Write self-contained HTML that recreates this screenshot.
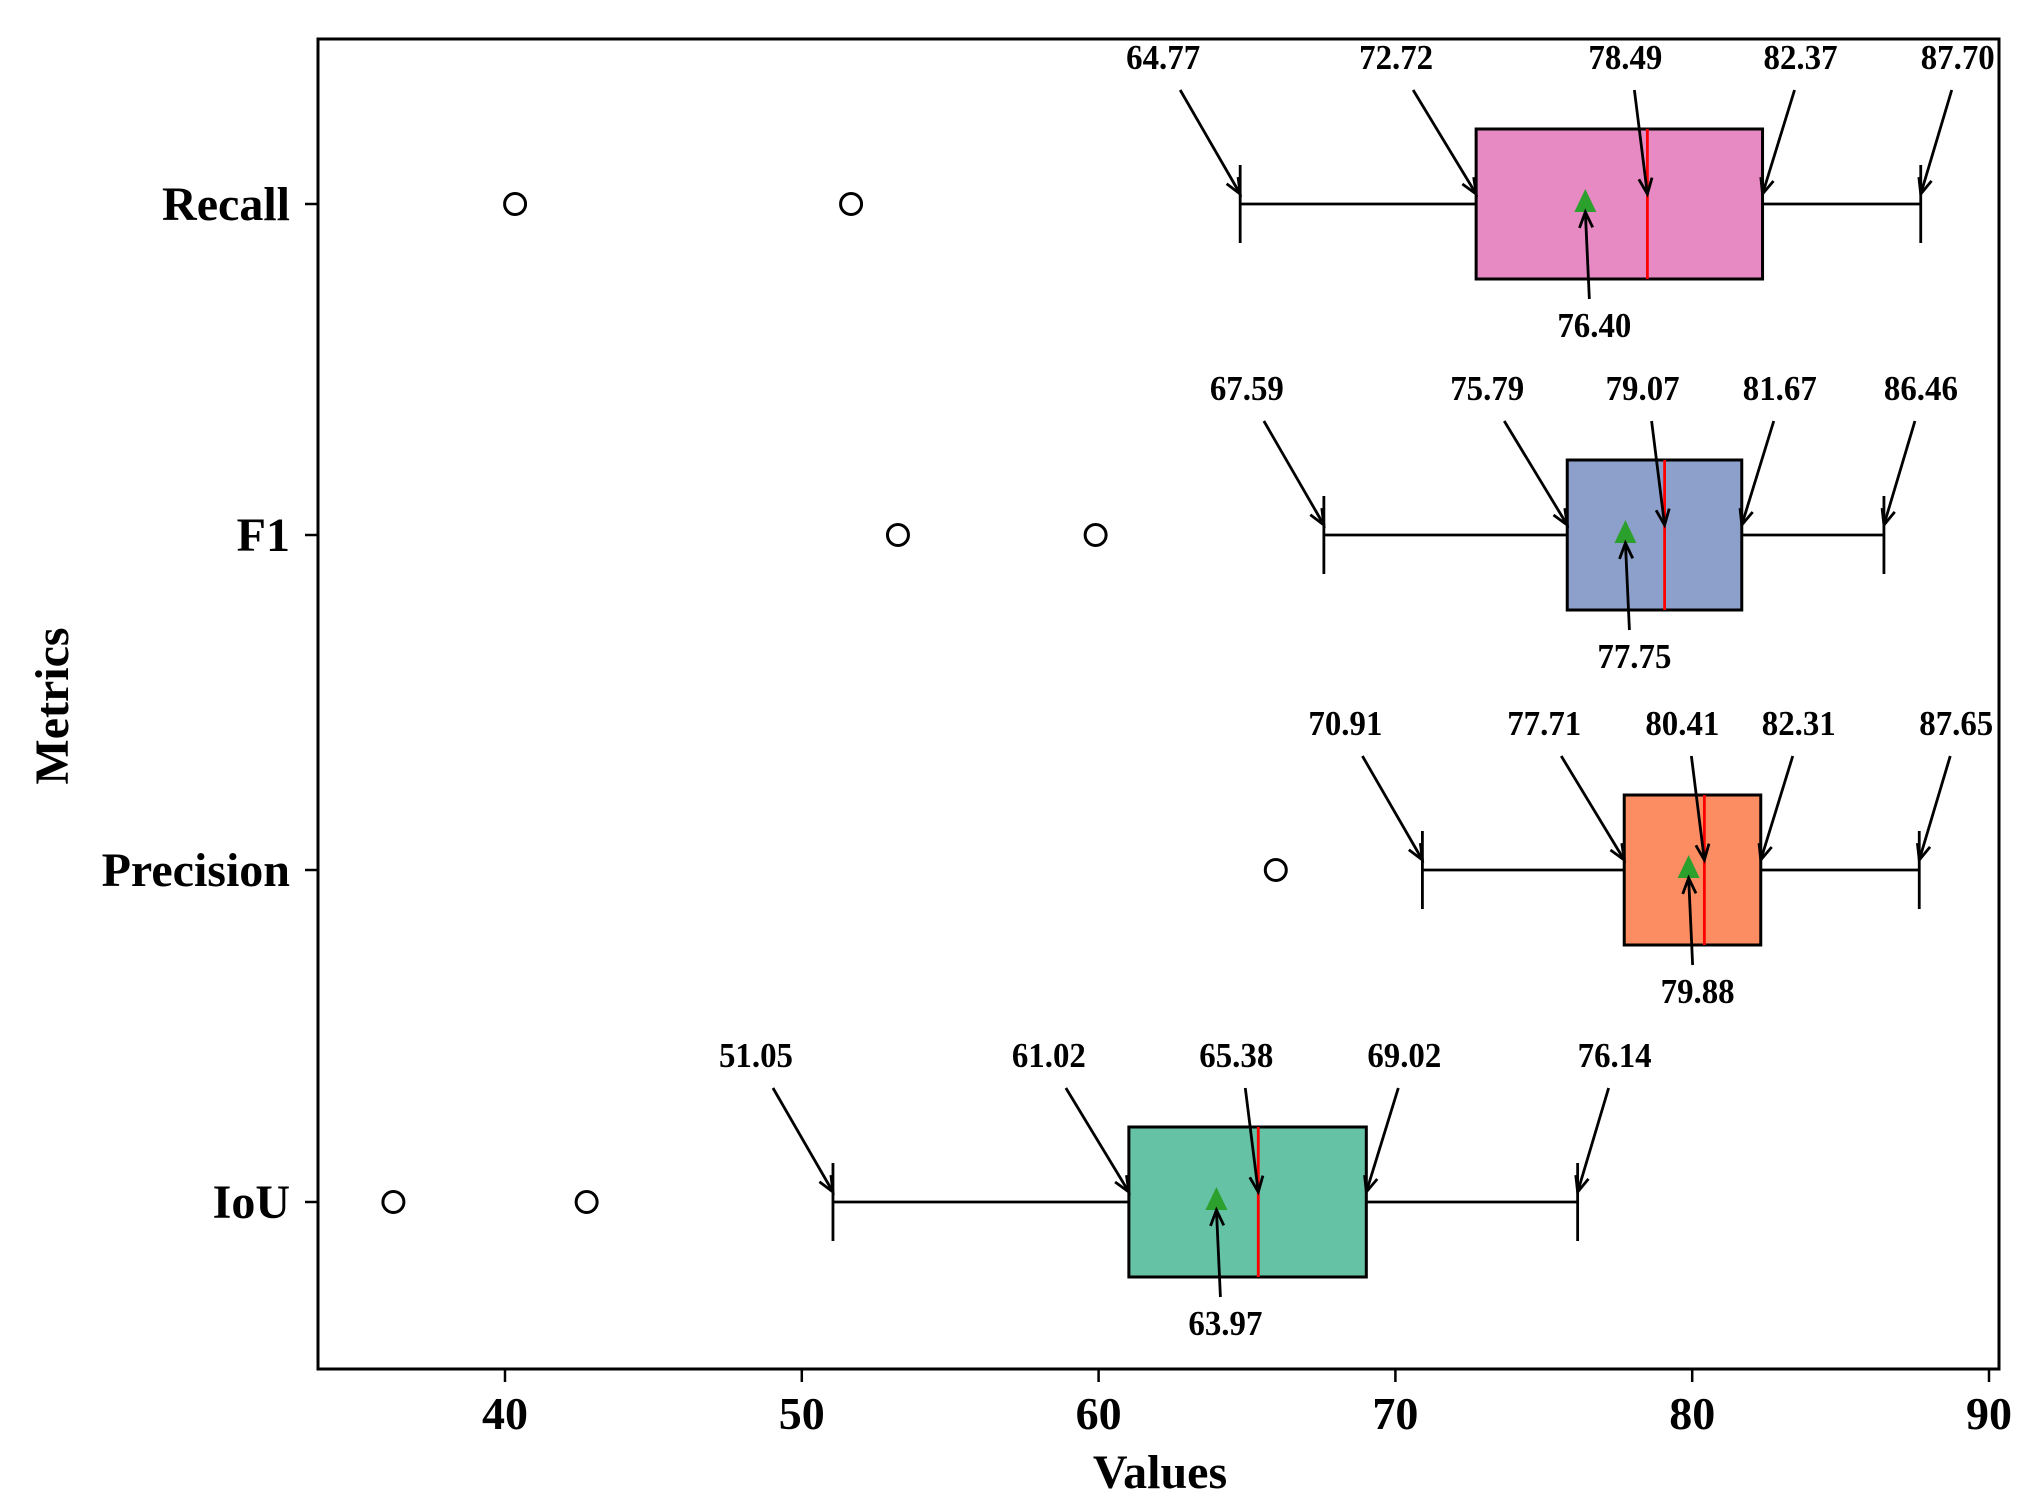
<!DOCTYPE html>
<html><head><meta charset="utf-8"><style>
html,body{margin:0;padding:0;background:#fff;}
svg{display:block;font-family:"Liberation Serif",serif;font-weight:bold;}
</style></head><body>
<svg id="s" width="2041" height="1511" viewBox="0 0 2041 1511" xmlns="http://www.w3.org/2000/svg"></svg>
<script>
const s=document.getElementById('s');
const X=v=>505+(v-40)*29.68;
let h='';
const L=318,R=1999,T=39,B=1369;
const rows=[
 {n:'Recall',y:204,c:'#e78ac3',d:[64.77,72.72,78.49,82.37,87.70],m:76.40,o:[40.34,51.66]},
 {n:'F1',y:535,c:'#8da0cb',d:[67.59,75.79,79.07,81.67,86.46],m:77.75,o:[53.24,59.9]},
 {n:'Precision',y:870,c:'#fc8d62',d:[70.91,77.71,80.41,82.31,87.65],m:79.88,o:[65.97]},
 {n:'IoU',y:1202,c:'#66c2a5',d:[51.05,61.02,65.38,69.02,76.14],m:63.97,o:[36.24,42.75]}
];
function arrow(x1,y1,x2,y2){
  const a=Math.atan2(y2-y1,x2-x1),l=17,w=0.4;
  h+=`<line x1="${x1}" y1="${y1}" x2="${x2}" y2="${y2}" stroke="#000" stroke-width="2.8"/>`;
  h+=`<polyline points="${x2-l*Math.cos(a-w)},${y2-l*Math.sin(a-w)} ${x2},${y2} ${x2-l*Math.cos(a+w)},${y2-l*Math.sin(a+w)}" fill="none" stroke="#000" stroke-width="2.8"/>`;
}
const lab=[-77,-80,-22,38,37], st=[17,17,9,-6,-6];
rows.forEach(r=>{
  const [mn,q1,md,q3,mx]=r.d.map(X), y=r.y;
  h+=`<line x1="${mn}" y1="${y}" x2="${q1}" y2="${y}" stroke="#000" stroke-width="2.8"/>`;
  h+=`<line x1="${q3}" y1="${y}" x2="${mx}" y2="${y}" stroke="#000" stroke-width="2.8"/>`;
  h+=`<line x1="${mn}" y1="${y-39}" x2="${mn}" y2="${y+39}" stroke="#000" stroke-width="2.8"/>`;
  h+=`<line x1="${mx}" y1="${y-39}" x2="${mx}" y2="${y+39}" stroke="#000" stroke-width="2.8"/>`;
  h+=`<rect x="${q1}" y="${y-75}" width="${q3-q1}" height="150" fill="${r.c}" stroke="#000" stroke-width="3"/>`;
  h+=`<line x1="${md}" y1="${y-75}" x2="${md}" y2="${y+75}" stroke="#ff0000" stroke-width="2.8"/>`;
  r.o.forEach(v=>{h+=`<circle cx="${X(v)}" cy="${y}" r="10.5" fill="none" stroke="#000" stroke-width="3"/>`;});
  const mx2=X(r.m);
  h+=`<polygon points="${mx2},${y-15} ${mx2-11},${y+8} ${mx2+11},${y+8}" fill="#2ca02c"/>`;
  [mn,q1,md,q3,mx].forEach((px,i)=>{
    const lx=px+lab[i];
    h+=`<text x="${lx}" y="${y-135}" font-size="35" text-anchor="middle" textLength="74" lengthAdjust="spacingAndGlyphs">${r.d[i].toFixed(2)}</text>`;
    arrow(lx+st[i],y-114,px,y-10);
  });
  h+=`<text x="${mx2+9}" y="${y+133}" font-size="35" text-anchor="middle" textLength="74" lengthAdjust="spacingAndGlyphs">${r.m.toFixed(2)}</text>`;
  arrow(mx2+4,y+95,mx2,y+8);
  h+=`<line x1="${L-13}" y1="${y}" x2="${L}" y2="${y}" stroke="#000" stroke-width="2.5"/>`;
  h+=`<text x="290" y="${y+16}" font-size="48" text-anchor="end">${r.n}</text>`;
});
h+=`<rect x="${L}" y="${T}" width="${R-L}" height="${B-T}" fill="none" stroke="#000" stroke-width="3"/>`;
[40,50,60,70,80,90].forEach(v=>{
  h+=`<line x1="${X(v)}" y1="${B}" x2="${X(v)}" y2="${B+13}" stroke="#000" stroke-width="2.5"/>`;
  h+=`<text x="${X(v)}" y="${B+60}" font-size="46" text-anchor="middle">${v}</text>`;
});
h+=`<text x="1160" y="1488" font-size="48" text-anchor="middle">Values</text>`;
h+=`<text transform="translate(68,706) rotate(-90)" font-size="48" text-anchor="middle">Metrics</text>`;
s.innerHTML=h;
</script>
</body></html>
